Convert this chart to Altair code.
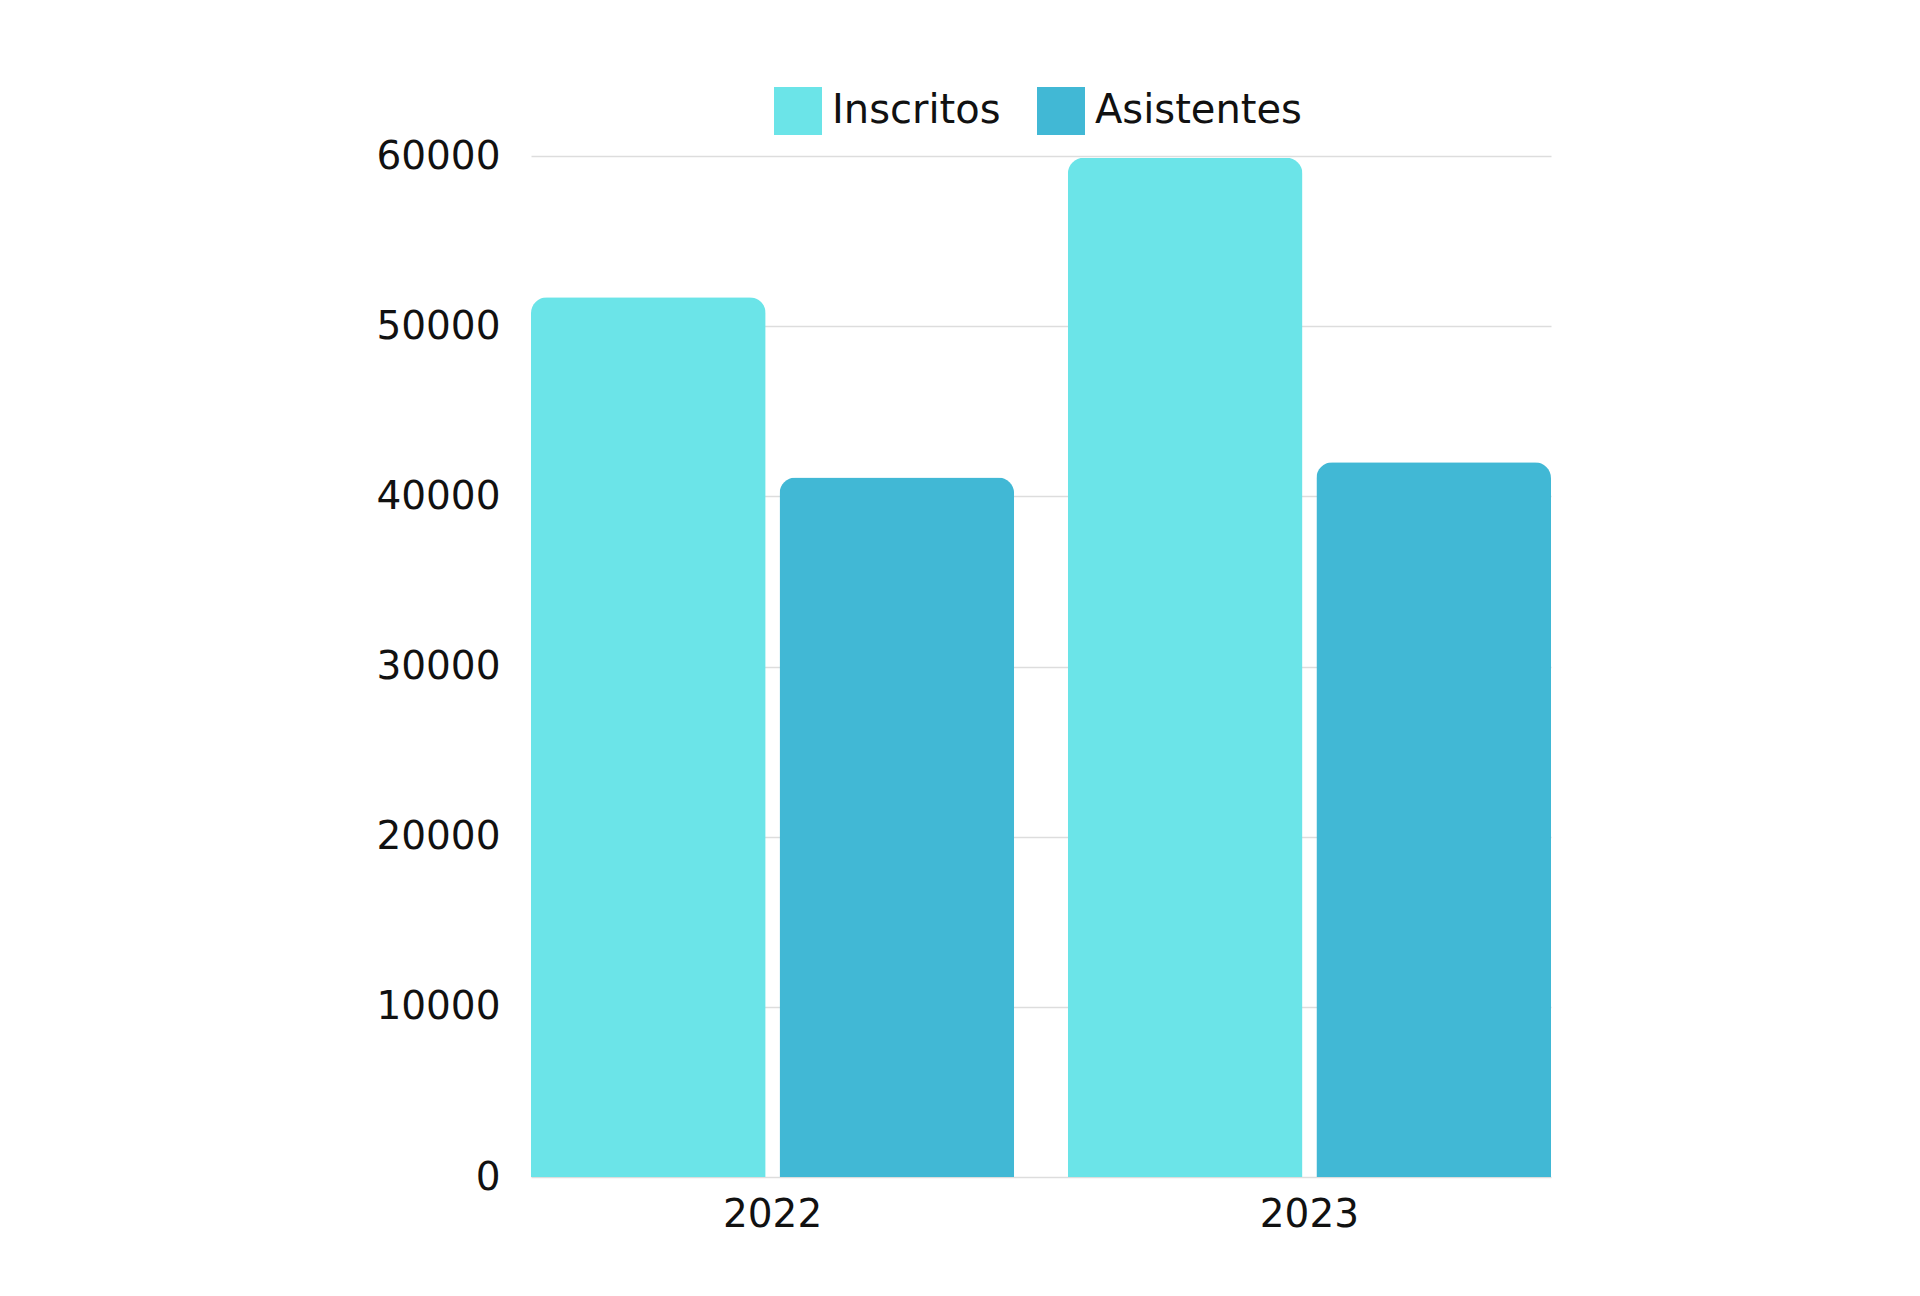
import altair as alt
import pandas as pd

years = ["2022", "2022", "2023", "2023"]
series = ["Inscritos", "Asistentes", "Inscritos", "Asistentes"]
values = [51700, 41100, 59900, 42000]
series_order = ["Inscritos", "Asistentes"]
colors = ["#6BE4E8", "#41B8D5"]
y_ticks = [0, 10000, 20000, 30000, 40000, 50000, 60000]

df = pd.DataFrame({"year": years, "series": series, "value": values})

FONT = "DejaVu Sans"

chart = alt.Chart(df).mark_bar(
    cornerRadiusTopLeft=16, cornerRadiusTopRight=16
).encode(
    x=alt.X("year:N", title=None,
            scale=alt.Scale(paddingInner=0.1, paddingOuter=0),
            axis=alt.Axis(labelAngle=0, ticks=False, domain=False, grid=False,
                          labelFontSize=39, labelFont=FONT, labelColor="#111111",
                          labelPadding=18)),
    xOffset=alt.XOffset("series:N", sort=series_order,
                        scale=alt.Scale(paddingInner=0.056, paddingOuter=0)),
    y=alt.Y("value:Q", title=None,
            scale=alt.Scale(domain=[0, 60000], nice=False),
            axis=alt.Axis(values=y_ticks, ticks=False, domain=False, grid=True,
                          gridColor="#dddddd", gridWidth=1.5,
                          labelFontSize=39, labelFont=FONT, labelColor="#111111",
                          labelPadding=31, format="d")),
    color=alt.Color("series:N", sort=series_order,
                    scale=alt.Scale(domain=series_order, range=colors),
                    legend=alt.Legend(title=None, orient="none", direction="horizontal",
                                      legendX=243, legendY=-69,
                                      symbolType="square", symbolSize=2304,
                                      symbolStrokeWidth=0, symbolOpacity=1,
                                      labelFontSize=40, labelFont=FONT,
                                      labelColor="#111111", labelOffset=10,
                                      columnPadding=36, labelLimit=400)),
).properties(
    width=1020,
    height=1021,
    background="white",
    autosize=alt.AutoSizeParams(type="none"),
    padding={"left": 523, "top": 148, "right": 361, "bottom": 111},
).configure_view(strokeWidth=0, stroke="transparent")

chart.save("out.html", embed_options={"renderer": "svg", "actions": False})
